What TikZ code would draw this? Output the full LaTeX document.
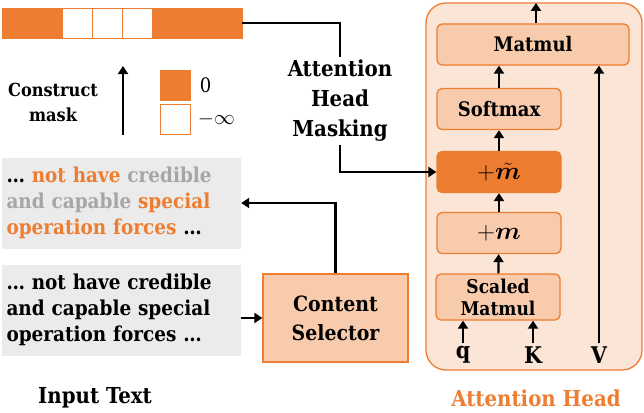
\documentclass[tikz,border=0pt]{standalone}
\usepackage{fontspec}
\usepackage{amsmath,bm}
\setmainfont{DejaVu Serif Condensed}
\usetikzlibrary{arrows.meta,positioning}
\definecolor{hdorange}{HTML}{ED7D31}
\definecolor{hdlight}{HTML}{F8CBAD}
\definecolor{hdpale}{HTML}{FBE5D6}
\definecolor{hdgrey}{HTML}{EBEBEB}
\definecolor{hdtext}{HTML}{A6A6A6}
\tikzset{
  op/.style={draw=hdorange,line width=1.3pt,fill=hdlight,rounded corners=5pt,minimum width=124pt,minimum height=41pt,font=\fontsize{20}{21}\selectfont\bfseries,align=center},
  cell/.style={draw=hdorange,line width=0.8pt,minimum size=30pt,inner sep=0pt},
  txtbox/.style={fill=hdgrey,minimum width=239pt,minimum height=91pt,font=\fontsize{20.5}{26}\selectfont\bfseries,align=left,text width=230pt},
  wire/.style={line width=2.2pt,-{Triangle[width=10pt,length=8pt]}},
  line/.style={line width=2.2pt},
  lbl/.style={font=\fontsize{22}{30}\selectfont\bfseries,align=center}
}
\begin{document}
\begin{tikzpicture}[x=1pt,y=-1pt]
  \useasboundingbox (0,0) rectangle (644,412);
  % mask bar
  \foreach \i/\c in {0/hdorange,1/hdorange,2/white,3/white,4/white,5/hdorange,6/hdorange,7/hdorange}
    \node[cell,fill=\c] (m\i) at (17+30*\i,23) {};
  % legend
  \node[cell,fill=hdorange] (zero) at (175,85) {};
  \node[cell,fill=white] (ninf) at (175,119) {};
  \node[right=6pt of zero,font=\fontsize{20}{20}\selectfont] {0};
  \node[right=4pt of ninf,font=\fontsize{20}{20}\selectfont] {$-\infty$};
  \node[lbl,font=\fontsize{18}{25}\selectfont\bfseries] (cm) at (53,102) {Construct\\mask};
  \coordinate (cmb) at (123,135);
  \coordinate (cmt) at (123,66);
  \draw[wire] (cmb) -- (cmt);
  % text boxes
  \node[txtbox] (sel) at (121.5,203) {\ldots{} \textcolor{hdorange}{not have} \textcolor{hdtext}{credible}\\\textcolor{hdtext}{and capable} \textcolor{hdorange}{special}\\\textcolor{hdorange}{operation forces} \ldots};
  \node[txtbox] (inp) at (121.5,310) {\ldots{} not have credible\\and capable special\\operation forces \ldots};
  \node[lbl] (inlbl) at (95,398) {Input Text};
  % content selector
  \node[draw=hdorange,line width=1.3pt,fill=hdlight,minimum width=145pt,minimum height=88pt,font=\fontsize{21}{29}\selectfont\bfseries,align=center] (cs) at (335.5,318) {Content\\Selector};
  % attention head
  \node[draw=hdorange,line width=1.3pt,fill=hdpale,rounded corners=20pt,minimum width=216pt,minimum height=367pt] (head) at (534,186.5) {};
  \node[lbl,text=hdorange] (hlbl) at (536,398) {Attention Head};
  \node[op,minimum width=192pt] (mm) at (533,44.5) {Matmul};
  \node[op] (sm) at (499,109) {Softmax};
  \node[op,fill=hdorange,draw=hdorange,inner sep=1pt,font=\fontsize{27}{27}\selectfont] (mt) at (499,172) {$+\tilde{\bm m}$};
  \node[op,inner sep=1pt,font=\fontsize{27}{27}\selectfont] (pm) at (499,233) {$+\bm m$};
  \node[op,minimum height=46pt,inner sep=1pt,font=\fontsize{19}{22}\selectfont\bfseries] (smm) at (498,297) {Scaled\\Matmul};
  \node[font=\fontsize{23}{23}\selectfont\bfseries] (q) at (463,355) {q};
  \node[font=\fontsize{23}{23}\selectfont\bfseries] (k) at (533,355) {K};
  \node[font=\fontsize{23}{23}\selectfont\bfseries] (v) at (599,355) {V};
  \coordinate (out) at (536,3);
  \draw[wire] (mm.north -| out) -- (out);
  \draw[wire] (sm) -- (sm |- mm.south);
  \draw[wire] (mt) -- (sm);
  \draw[wire] (pm) -- (mt);
  \draw[wire] (smm) -- (pm);
  \draw[wire] (q) -- (q |- smm.south);
  \draw[wire] (k) -- (k |- smm.south);
  \draw[wire] (v) -- (v |- mm.south);
  % masking
  \node[lbl] (mask) at (340,101) {Attention\\Head\\Masking};
  \draw[line] (m7.east) -| (mask.north);
  \draw[wire] (mask.south) |- (mt.west);
  \draw[wire] (cs.north) |- (sel.east);
  \draw[wire] (inp.east |- cs.west) -- (cs.west);
\end{tikzpicture}
\end{document}
